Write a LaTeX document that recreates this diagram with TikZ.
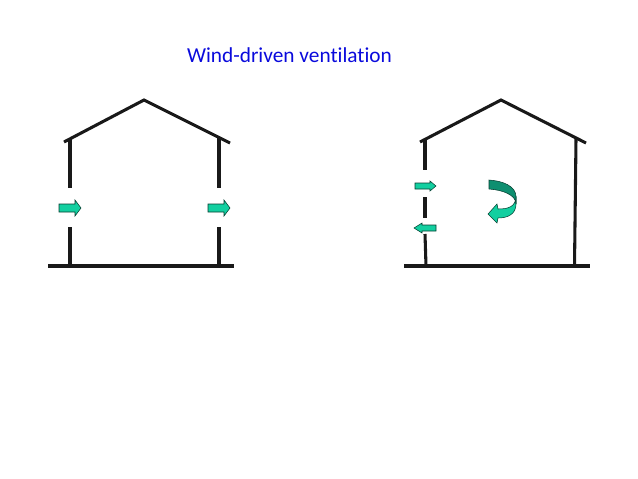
\documentclass[tikz,border=0pt]{standalone}
\usepackage{fontspec}
\setmainfont[Ligatures=NoCommon]{Carlito}
\usepackage{xcolor}
\definecolor{flow}{HTML}{12CFA0}
\definecolor{l-flow}{HTML}{0E8F70}
\definecolor{title}{HTML}{0A0ADC}
\tikzset{
  wall/.style={line width=2.3pt, black!90},
  flowarrow/.style={fill=flow, draw=black!70!flow, line width=0.4pt, line join=miter},
}
\begin{document}
\begin{tikzpicture}[x=0.75pt, y=-0.75pt]
  \useasboundingbox (0, 0) rectangle (638, 478);
  \node[text=title, font=\fontsize{16}{19}\selectfont] (heading) at (289.5, 55) {Wind-driven ventilation};

  % left house
  \draw[wall] (64, 142) -- (144, 100) -- (230, 143);
  \draw[wall] (70, 139) -- (70, 188);
  \draw[wall] (70, 227) -- (70, 266);
  \draw[wall] (219, 137) -- (219, 188);
  \draw[wall] (219, 227) -- (219, 266);
  \draw[wall] (48, 266) -- (234, 266);
  \draw[flowarrow] (59, 204) -- (75, 204) -- (75, 200) -- (81, 208) -- (75, 216) -- (75, 212) -- (59, 212) -- cycle;
  \draw[flowarrow] (208, 204) -- (224, 204) -- (224, 200) -- (230, 208) -- (224, 216) -- (224, 212) -- (208, 212) -- cycle;

  % right house
  \draw[wall] (420, 142) -- (501, 100) -- (586, 143);
  \draw[wall] (425, 139) -- (425, 170);
  \draw[wall] (425, 197) -- (425, 218);
  \draw[wall] (425, 234) -- (426, 266);
  \draw[wall] (576, 139) -- (574.5, 266);
  \draw[wall] (404, 266) -- (590, 266);
  \draw[flowarrow] (415, 183) -- (430, 183) -- (430, 181) -- (436, 186) -- (430, 191) -- (430, 189) -- (415, 189) -- cycle;
  \draw[flowarrow] (436, 225) -- (422, 225) -- (422, 223) -- (414, 228) -- (422, 233) -- (422, 231) -- (436, 231) -- cycle;

  % turning flow
  \draw[flowarrow] (516, 196) .. controls (516, 207) and (508, 209) .. (498, 209) -- (497, 204) -- (488, 214) -- (497, 223) -- (498, 218) .. controls (508, 218) and (516, 214) .. (516, 204) -- cycle;
  \draw[flowarrow, fill=l-flow] (489, 180) .. controls (503, 181) and (516, 186) .. (516, 197) -- (516, 204) .. controls (516, 195) and (503, 190) .. (489, 189) -- cycle;
\end{tikzpicture}
\end{document}
